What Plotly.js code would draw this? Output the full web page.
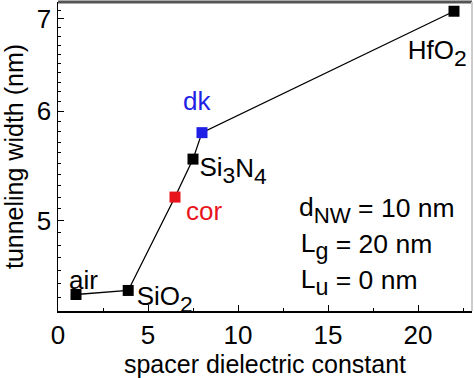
<!DOCTYPE html>
<html><head><meta charset="utf-8">
<script src="https://cdn.plot.ly/plotly-3.0.1.min.js"></script>
<style>html,body{margin:0;padding:0;background:#fff}#chart{width:474px;height:378px}</style>
</head><body><div id="chart"></div>
<script>
const materials = ['air', 'SiO2', 'cor', 'Si3N4', 'dk', 'HfO2'];
const labels = ['air', 'SiO<sub>2</sub>', 'cor', 'Si<sub>3</sub>N<sub>4</sub>', 'dk', 'HfO<sub>2</sub>'];
const dielectricConstant = [1, 3.9, 6.5, 7.5, 8, 22];
const tunnelingWidth = [4.42, 4.45, 5.2, 5.54, 5.79, 7.09];
const xTicks = [0, 5, 10, 15, 20];
const yTicks = [5, 6, 7];
const paramLines = ['d<sub>NW</sub> = 10 nm', 'L<sub>g</sub> = 20 nm', 'L<sub>u</sub> = 0 nm'];

const FONT = 'Liberation Sans, Arial, Helvetica, sans-serif';
const RED = '#e8141c', BLUE = '#1f1fe6';
const pointColors = {cor: RED, dk: BLUE};
const labelStyle = {
  air:   {xanchor: 'center', xshift: 7,   yshift: 15},
  SiO2:  {xanchor: 'left',   xshift: 8,   yshift: -7},
  cor:   {xanchor: 'left',   xshift: 9,   yshift: -14},
  Si3N4: {xanchor: 'left',   xshift: 7,   yshift: -9},
  dk:    {xanchor: 'center', xshift: -5,  yshift: 32},
  HfO2:  {xanchor: 'left',   xshift: -47, yshift: -40}
};

const yMinor = [];
for (let v = 43; v <= 71; v++) { if (v % 10 !== 0) yMinor.push(v / 10); }

const trace = {
  x: dielectricConstant, y: tunnelingWidth,
  type: 'scatter', mode: 'lines+markers',
  line: {color: '#000', width: 1.3},
  marker: {symbol: 'square', size: 11,
           color: materials.map(m => pointColors[m] || '#000'),
           line: {width: 0}},
  hoverinfo: 'skip', cliponaxis: false
};

const annotations = materials.map((m, i) => ({
  x: dielectricConstant[i], y: Math.log10(tunnelingWidth[i]),
  xref: 'x', yref: 'y', text: labels[i], showarrow: false,
  xanchor: labelStyle[m].xanchor, yanchor: 'middle',
  xshift: labelStyle[m].xshift, yshift: labelStyle[m].yshift,
  font: {family: FONT, size: 26, color: pointColors[m] || '#000'}
}));
const paramY = [0.33, 0.214, 0.097];
paramLines.forEach((t, i) => annotations.push({
  x: 0.585, y: paramY[i], xref: 'paper', yref: 'paper', text: t,
  showarrow: false, xanchor: 'left', yanchor: 'middle',
  font: {family: FONT, size: 26.5, color: '#000'}
}));

const layout = {
  width: 474, height: 378,
  margin: {l: 58, r: 2, t: 2, b: 67},
  paper_bgcolor: '#fff', plot_bgcolor: '#fff',
  showlegend: false,
  font: {family: FONT, size: 26, color: '#000'},
  xaxis: {
    range: [0, 23], tickvals: xTicks, ticks: 'inside', ticklen: 6, tickwidth: 1,
    tickcolor: '#000', showline: true, linecolor: '#000', linewidth: 1.5,
    showgrid: false, zeroline: false, tickfont: {size: 26, color: '#000'},
    minor: {tickvals: [2.5, 7.5, 12.5, 17.5, 22.5], ticks: 'inside', ticklen: 3, tickcolor: '#000', showgrid: false},
    title: {text: 'spacer dielectric constant', font: {size: 25, color: '#000'}, standoff: 11},
    automargin: false
  },
  yaxis: {
    type: 'log', range: [Math.log10(4.3), Math.log10(7.2)],
    tickvals: yTicks, ticktext: yTicks.map(String), ticks: 'inside', ticklen: 6, tickwidth: 1,
    tickcolor: '#000', showline: true, linecolor: '#000', linewidth: 1.5,
    showgrid: false, zeroline: false, tickfont: {size: 26, color: '#000'},
    minor: {tickvals: yMinor, ticks: 'inside', ticklen: 3, tickcolor: '#000', showgrid: false},
    title: {text: 'tunneling width (nm)', font: {size: 25, color: '#000'}, standoff: 15},
    automargin: false
  },
  shapes: [
    {type: 'line', xref: 'paper', yref: 'paper', x0: 0, x1: 1, y0: 1, y1: 1, line: {color: '#555', width: 3}},
    {type: 'line', xref: 'paper', yref: 'paper', x0: 1, x1: 1, y0: 0, y1: 1, line: {color: '#ccc', width: 2}}
  ],
  annotations: annotations
};

Plotly.newPlot('chart', [trace], layout, {displayModeBar: false, staticPlot: true}).then(gd => {
  // reference subscripts are nearly full size
  gd.querySelectorAll('.annotation-text tspan').forEach(ts => {
    const st = ts.getAttribute('style') || '';
    if (/font-size:\s*70%/.test(st)) {
      const pct = ts.textContent === 'NW' ? '84%' : '88%';
      ts.setAttribute('style', st.replace(/font-size:\s*70%/, 'font-size:' + pct));
    }
  });
});
</script>
</body></html>
